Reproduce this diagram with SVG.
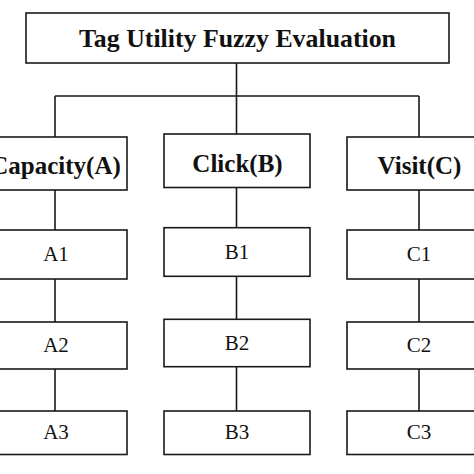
<svg xmlns="http://www.w3.org/2000/svg" width="474" height="474" viewBox="0 0 474 474">
<style>
.box{fill:#fff;stroke:#1a1a1a;stroke-width:1.6}
.ln{stroke:#1a1a1a;stroke-width:1.6;fill:none}
.h{font-family:"Liberation Serif",serif;font-weight:bold;font-size:25px;text-anchor:middle;fill:#111}
.t{font-family:"Liberation Serif",serif;font-size:21px;text-anchor:middle;fill:#111}
</style>
<rect width="474" height="474" fill="#fff"/>
<g id="connectors">
<path class="ln" d="M236.5 63V96M55 96H419M55 96V137M236.5 96V134M419 96V137"/>
<path class="ln" d="M55 190V230M55 279V322M55 369V411"/>
<path class="ln" d="M236.5 188V228M236.5 276V319M236.5 367V411"/>
<path class="ln" d="M419 190V230M419 279V322M419 369V411"/>
</g>
<g id="root"><rect class="box" x="26" y="13" width="423" height="50"/><text class="h" x="237.5" y="47" font-size="23" textLength="317" lengthAdjust="spacingAndGlyphs">Tag Utility Fuzzy Evaluation</text></g>
<g id="A"><rect class="box" x="-17" y="137" width="144" height="53"/><text class="h" x="55.5" y="174">Capacity(A)</text></g>
<g id="B"><rect class="box" x="164" y="134" width="146" height="53.5"/><text class="h" x="237.5" y="171.5">Click(B)</text></g>
<g id="C"><rect class="box" x="347" y="137" width="144" height="53"/><text class="h" x="419.5" y="174">Visit(C)</text></g>
<g id="A1"><rect class="box" x="-17" y="230" width="144" height="49"/><text class="t" x="56" y="261">A1</text></g>
<g id="A2"><rect class="box" x="-17" y="322" width="144" height="47"/><text class="t" x="56" y="351.5">A2</text></g>
<g id="A3"><rect class="box" x="-17" y="411" width="144" height="43.5"/><text class="t" x="56" y="439">A3</text></g>
<g id="B1"><rect class="box" x="164" y="227.7" width="146" height="48.6"/><text class="t" x="237" y="258.5">B1</text></g>
<g id="B2"><rect class="box" x="164" y="319.3" width="146" height="47.4"/><text class="t" x="237" y="349.5">B2</text></g>
<g id="B3"><rect class="box" x="164" y="411" width="146" height="43.5"/><text class="t" x="237" y="439">B3</text></g>
<g id="C1"><rect class="box" x="347" y="230" width="144" height="49"/><text class="t" x="419" y="261">C1</text></g>
<g id="C2"><rect class="box" x="347" y="322" width="144" height="47"/><text class="t" x="419" y="351.5">C2</text></g>
<g id="C3"><rect class="box" x="347" y="411" width="144" height="43.5"/><text class="t" x="419" y="439">C3</text></g>
</svg>
